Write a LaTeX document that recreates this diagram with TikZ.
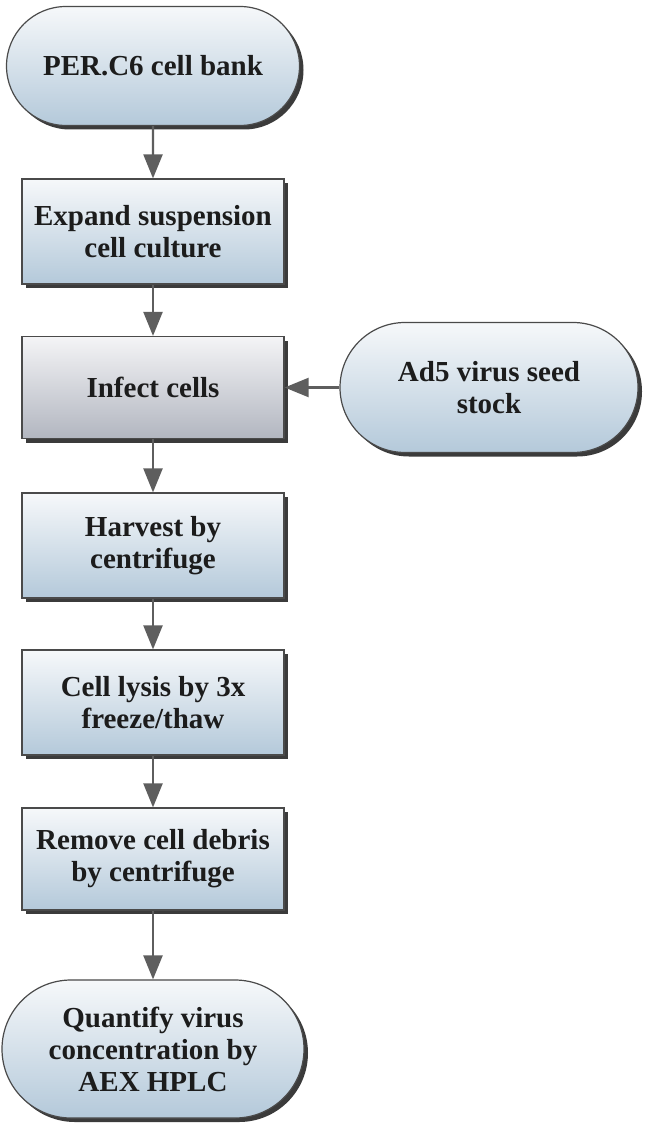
\documentclass[tikz,border=0pt]{standalone}
\usepackage{fontspec}
\setmainfont{Liberation Serif}
\usetikzlibrary{shapes.misc,shadows,arrows.meta}
\definecolor{edgec}{HTML}{4A4A4A}
\definecolor{arrowc}{HTML}{5E5E5E}
\definecolor{topb}{HTML}{F6F8FA}
\definecolor{botb}{HTML}{B4C9DA}
\definecolor{topg}{HTML}{F4F4F6}
\definecolor{botg}{HTML}{B2B6C0}
\definecolor{textc}{HTML}{1C1C1C}
\tikzset{
  base/.style={draw=edgec, line width=1.2pt, align=center, inner sep=0pt, text=textc,
    font=\fontsize{29}{32}\selectfont\bfseries,
    drop shadow={shadow xshift=4pt, shadow yshift=-4pt, fill=black!85, opacity=0.9}},
  procbox/.style={base, rectangle, minimum width=262pt, minimum height=105pt,
    top color=topb, bottom color=botb},
  graybox/.style={procbox, top color=topg, bottom color=botg},
  terminal/.style={base, rounded rectangle, top color=topb, bottom color=botb},
  flow/.style={draw=arrowc, line width=2.2pt, -{Triangle[length=24pt,width=19pt]}}
}
\begin{document}
\begin{tikzpicture}[x=1pt,y=1pt]
  \useasboundingbox (0,0) rectangle (655,-1126);
  \fill[white] (0,0) rectangle (655,-1126);
  \node[terminal, minimum width=293pt, minimum height=119pt] (s1) at (153,-66) {PER.C6 cell bank};
  \node[procbox] (b2) at (153,-231.5) {Expand suspension\\cell culture};
  \node[graybox, minimum height=102pt] (b3) at (153,-387.5) {Infect cells};
  \node[terminal, minimum width=298pt, minimum height=130pt] (ad5) at (489,-387.5) {Ad5 virus seed\\stock};
  \node[procbox] (b4) at (153,-545.5) {Harvest by\\centrifuge};
  \node[procbox] (b5) at (153,-702.5) {Cell lysis by 3x\\freeze/thaw};
  \node[procbox, minimum height=102pt] (b6) at (153,-859) {Remove cell debris\\by centrifuge};
  \node[terminal, minimum width=302pt, minimum height=138pt] (s7) at (153,-1049) {Quantify virus\\concentration by\\AEX HPLC};
  \draw[flow] (s1) -- (b2);
  \draw[flow] (b2) -- (b3);
  \draw[flow] (b3) -- (b4);
  \draw[flow] (b4) -- (b5);
  \draw[flow] (b5) -- (b6);
  \draw[flow] (b6) -- (s7);
  \draw[flow] (ad5) -- (b3);
\end{tikzpicture}
\end{document}
